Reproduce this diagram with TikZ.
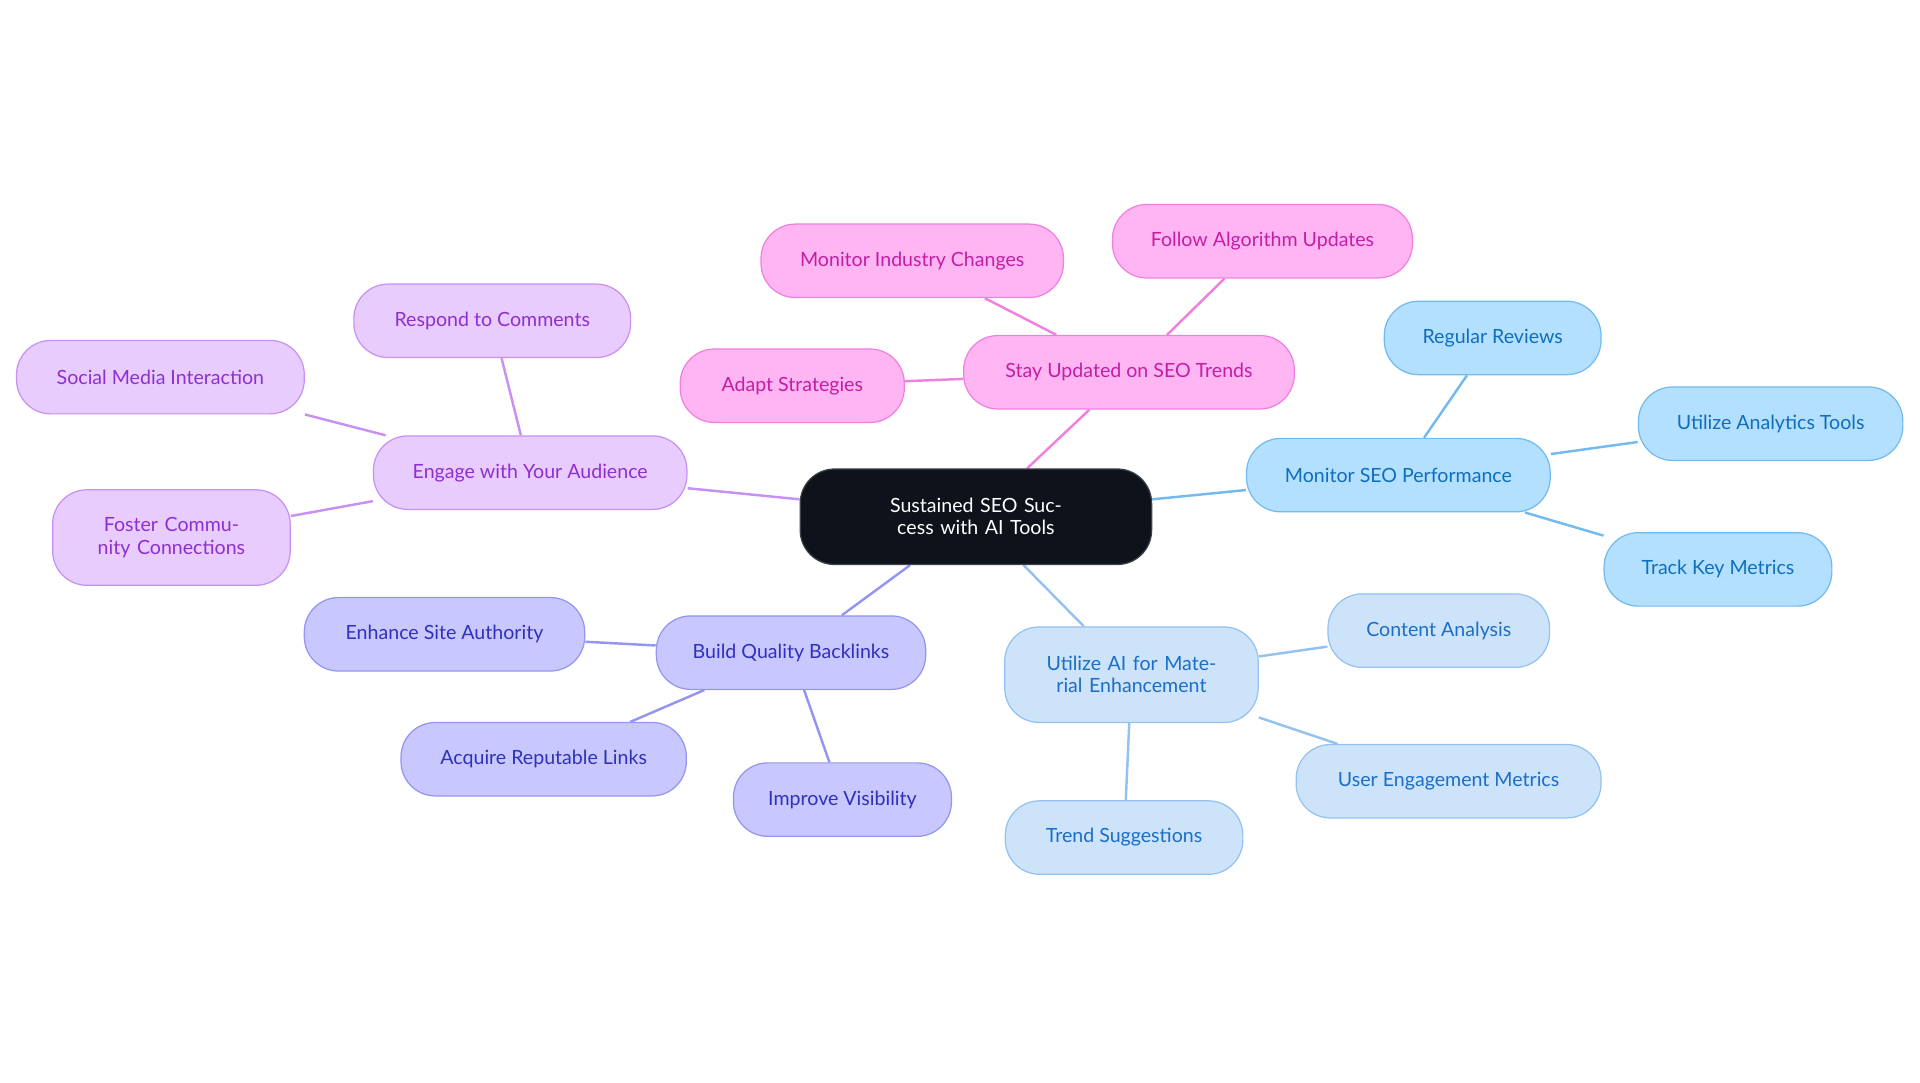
\documentclass[tikz,border=0pt]{standalone}
\usepackage{fontspec}
\setmainfont{Lato}
\usetikzlibrary{backgrounds}
\definecolor{pkF}{HTML}{FFB5F2}\definecolor{pkD}{HTML}{F07FE0}\definecolor{pkT}{HTML}{C21FA6}
\definecolor{puF}{HTML}{E8CCFE}\definecolor{puD}{HTML}{C890F2}\definecolor{puT}{HTML}{8E2FD0}
\definecolor{inF}{HTML}{C8C8FE}\definecolor{inD}{HTML}{9494F2}\definecolor{inT}{HTML}{3030BE}
\definecolor{lbF}{HTML}{CCE3FA}\definecolor{lbD}{HTML}{94C2F0}\definecolor{lbT}{HTML}{1C6EC6}
\definecolor{blF}{HTML}{B3E0FE}\definecolor{blD}{HTML}{72BAF0}\definecolor{blT}{HTML}{0F6EBE}
\definecolor{rootF}{HTML}{0E131B}
\tikzset{
 box/.style={rounded corners=28pt,line width=1pt,align=center,font=\fontsize{16}{18}\selectfont,inner sep=0pt},
 pk/.style={box,fill=pkF,draw=pkD,text=pkT},
 pu/.style={box,fill=puF,draw=puD,text=puT},
 ind/.style={box,fill=inF,draw=inD,text=inT},
 lb/.style={box,fill=lbF,draw=lbD,text=lbT},
 bl/.style={box,fill=blF,draw=blD,text=blT},
 ed/.style={line width=2pt}
}
\begin{document}
\begin{tikzpicture}[x=1pt,y=-1pt]
\useasboundingbox (0,0) rectangle (1568,884);
\node[box,fill=rootF,draw=rootF!80!white,text=white,minimum width=287pt,minimum height=78pt,text width=250pt] (root) at (797,422) {Sustained SEO Success with AI Tools};
\node[pk,minimum width=270pt,minimum height=60pt] (st) at (922,304) {Stay Updated on SEO Trends};
\node[pk,minimum width=245pt,minimum height=60pt] (fa) at (1031,197) {Follow Algorithm Updates};
\node[pk,minimum width=247pt,minimum height=60pt] (mi) at (745,213) {Monitor Industry Changes};
\node[pk,minimum width=183pt,minimum height=60pt] (as) at (647,315) {Adapt Strategies};
\node[bl,minimum width=248pt,minimum height=60pt] (ms) at (1142,388) {Monitor SEO Performance};
\node[bl,minimum width=177pt,minimum height=60pt] (rr) at (1219,276) {Regular Reviews};
\node[bl,minimum width=216pt,minimum height=60pt] (ua) at (1446,346) {Utilize Analytics Tools};
\node[bl,minimum width=186pt,minimum height=60pt] (tk) at (1403,465) {Track Key Metrics};
\node[lb,minimum width=207pt,minimum height=78pt,text width=190pt] (ai) at (924,551) {Utilize AI for Material Enhancement};
\node[lb,minimum width=181pt,minimum height=60pt] (ca) at (1175,515) {Content Analysis};
\node[lb,minimum width=249pt,minimum height=60pt] (ue) at (1183,638) {User Engagement Metrics};
\node[lb,minimum width=194pt,minimum height=60pt] (ts) at (918,684) {Trend Suggestions};
\node[ind,minimum width=220pt,minimum height=60pt] (bq) at (646,533) {Build Quality Backlinks};
\node[ind,minimum width=229pt,minimum height=60pt] (es) at (363,518) {Enhance Site Authority};
\node[ind,minimum width=233pt,minimum height=60pt] (ar) at (444,620) {Acquire Reputable Links};
\node[ind,minimum width=178pt,minimum height=60pt] (iv) at (688,653) {Improve Visibility};
\node[pu,minimum width=256pt,minimum height=60pt] (ea) at (433,386) {Engage with Your Audience};
\node[pu,minimum width=226pt,minimum height=60pt] (rc) at (402,262) {Respond to Comments};
\node[pu,minimum width=235pt,minimum height=60pt] (sm) at (131,308) {Social Media Interaction};
\node[pu,minimum width=194pt,minimum height=78pt,text width=180pt] (fc) at (140,439) {Foster Community Connections};
\begin{scope}[on background layer]
\draw[ed,pkD] (root) -- (st) (st) -- (fa) (st) -- (mi) (st) -- (as);
\draw[ed,blD] (root) -- (ms) (ms) -- (rr) (ms) -- (ua) (ms) -- (tk);
\draw[ed,lbD] (root) -- (ai) (ai) -- (ca) (ai) -- (ue) (ai) -- (ts);
\draw[ed,inD] (root) -- (bq) (bq) -- (es) (bq) -- (ar) (bq) -- (iv);
\draw[ed,puD] (root) -- (ea) (ea) -- (rc) (ea) -- (sm) (ea) -- (fc);
\end{scope}
\end{tikzpicture}
\end{document}
